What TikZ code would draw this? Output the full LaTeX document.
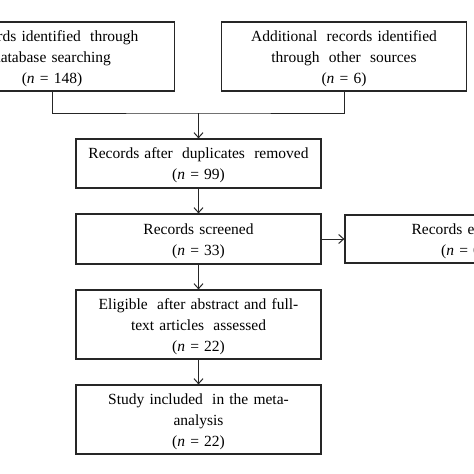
\documentclass[tikz,border=0pt]{standalone}
\usepackage{fontspec}
\setmainfont{Liberation Serif}
\usetikzlibrary{arrows.meta}
\newcommand{\wgap}{\hspace{0.6em}}

\begin{document}
\begin{tikzpicture}[x=1pt,y=-1pt,>={Straight Barb[length=5pt,width=9pt]},
	box/.style={draw=black!85, line width=1.2pt, minimum width=245pt, text width=238pt, align=center, inner sep=2pt, font=\fontsize{15.5}{21}\selectfont},
	link/.style={draw=black!85, line width=1pt}]
		\clip (0,0) rectangle (474,474);
		\fill[white] (0,0) rectangle (474,474);
		
		\node[box, minimum height=69pt] (db) at (52,56.5) {\strut Records identified\wgap through\\database searching\\(\textit{n} = 148)};
		\node[box, minimum height=69pt] (other) at (344,56.5) {\strut Additional\wgap records identified\\through\wgap other\wgap sources\\(\textit{n} = 6)};
		\node[box, minimum height=49pt] (dup) at (198.5,163.5) {\strut Records after\wgap duplicates\wgap removed\\(\textit{n} = 99)};
		\node[box, minimum height=50pt] (scr) at (198.5,239) {\strut Records screened\\(\textit{n} = 33)};
		\node[box, minimum height=48pt] (exc) at (467.5,239) {\strut Records excluded\\(\textit{n} = 66)};
		\node[box, minimum height=69pt] (elig) at (198.5,324.5) {\strut Eligible\wgap after abstract and full-\\text articles\wgap assessed\\(\textit{n} = 22)};
		\node[box, minimum height=69pt] (incl) at (198.5,419.5) {\strut Study included\wgap in the meta-\\analysis\\(\textit{n} = 22)};
		
		\coordinate (join) at (198.5,113);
		\draw[link] (db.south) |- (join) -| (other.south);
		\draw[link,->] (join) -- (dup.north);
		\draw[link,->] (dup.south) -- (scr.north);
		\draw[link,->] (scr.east) -- (exc.west);
		\draw[link,->] (scr.south) -- (elig.north);
		\draw[link,->] (elig.south) -- (incl.north);
	\end{tikzpicture}
\end{document}
